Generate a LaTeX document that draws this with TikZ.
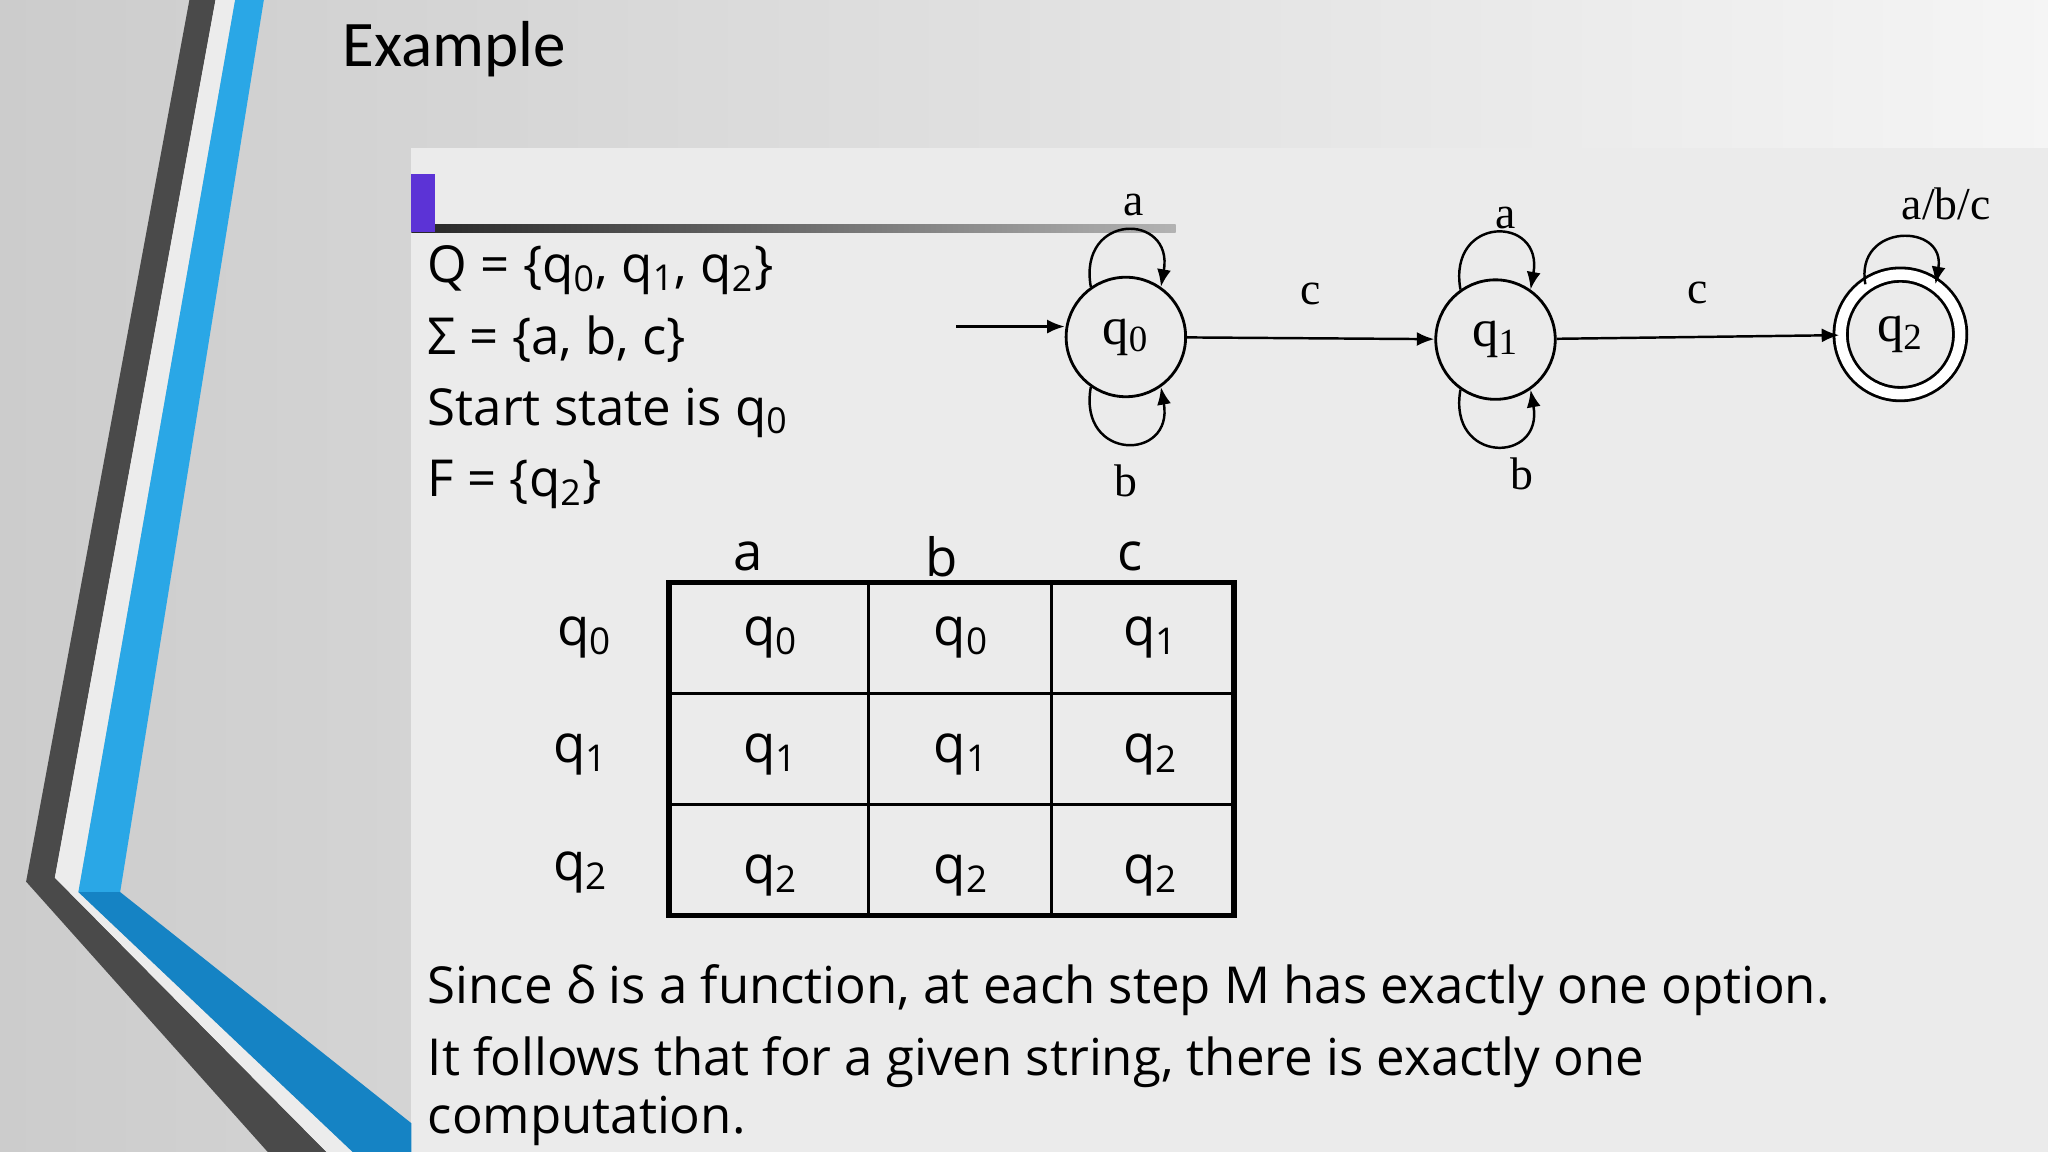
\documentclass[tikz,border=0pt]{standalone}
\usepackage{fontspec}
\setmainfont{Open Sans}
\newfontfamily\titlefont{Carlito}
\newfontfamily\serf{Liberation Serif}
\usetikzlibrary{arrows.meta}
\definecolor{bandblue}{HTML}{2AA7E6}
\definecolor{bandblue2}{HTML}{1583C4}
\definecolor{bandgray}{HTML}{4A4A4A}
\definecolor{panel}{HTML}{EBEBEB}
\tikzset{
  body/.style={anchor=west,inner sep=0pt,font=\fontsize{14.5}{16}\selectfont},
  st/.style={circle,draw,line width=0.8pt,minimum size=34pt,inner sep=0pt,font=\serf\fontsize{15}{16}\selectfont},
  lab/.style={font=\serf\fontsize{13}{14}\selectfont,inner sep=1pt},
  edge/.style={-{Latex[length=5pt,width=4pt]},line width=0.7pt},
  cell/.style={font=\fontsize{15}{16}\selectfont,inner sep=0pt}
}
\newcommand{\qs}[1]{q\textsubscript{#1}}
\begin{document}
\begin{tikzpicture}[x=0.01306cm,y=-0.01306cm]
\useasboundingbox (0,0) rectangle (1568,882);
\shade[left color=gray!40,right color=gray!8] (0,0) rectangle (1568,882);
\fill[panel] (315,113) rectangle (1568,882);
% stripes
\fill[bandgray] (145,0) -- (165,0) -- (42,672) -- (250,882) -- (205,882) -- (20,675) -- cycle;
\fill[white!85!gray] (165,0) -- (180,0) -- (60,683) -- (270,882) -- (250,882) -- (42,672) -- cycle;
\fill[bandblue] (180,0) -- (202,0) -- (92,683) -- (60,683) -- cycle;
\fill[bandblue2] (60,683) -- (92,683) -- (315,860) -- (315,882) -- (270,882) -- cycle;
\node[anchor=west,inner sep=0pt,font=\titlefont\fontsize{18.5}{20}\selectfont] (title) at (262,38) {Example};
% top line
\shade[left color=black!85,right color=black!30] (315,172) rectangle (900,178);
\fill[blue!60!violet!80] (315,133) rectangle (333,178);
% texts
\node[body] (Q) at (327,207) {Q = \{\qs{0}, \qs{1}, \qs{2}\}};
\node[body] (S) at (327,260) {Σ = \{a, b, c\}};
\node[body] (St) at (327,316) {Start state is \qs{0}};
\node[body] (F) at (327,371) {F = \{\qs{2}\}};
% automaton
\node[st] (q0) at (862,258) {q\textsubscript{0}};
\node[st] (q1) at (1145,260) {q\textsubscript{1}};
\node[st,double,double distance=3pt] (q2) at (1455,256) {q\textsubscript{2}};
\coordinate (start) at (732,250);
\draw[edge] (start) -- (start -| q0.west);
\draw[edge] (q0) -- node[lab,above=8pt] {c} (q1);
\draw[edge] (q1) -- node[lab,above=8pt] {c} (q2);
\draw[edge] (q0.125) .. controls +(-100:58) and +(-80:58) .. (q0.55);
\node[lab] (la0) at (868,157) {a};
\draw[edge] (q0.235) .. controls +(100:58) and +(80:58) .. (q0.305);
\node[lab] (lb0) at (862,368) {b};
\draw[edge] (q1.125) .. controls +(-100:58) and +(-80:58) .. (q1.55);
\node[lab] (la1) at (1153,167) {a};
\draw[edge] (q1.235) .. controls +(100:58) and +(80:58) .. (q1.305);
\node[lab] (lb1) at (1165,363) {b};
\draw[edge] (q2.125) .. controls +(-100:48) and +(-80:48) .. (q2.55);
\node[lab] (lq2) at (1490,156) {a/b/c};
% table
\draw[line width=1.6pt] (512,446) rectangle (945,701);
\draw[line width=0.9pt] (665,446) -- (665,701) (805,446) -- (805,701) (512,531) -- (945,531) (512,616) -- (945,616);
\node[cell] (ha) at (573,426) {a};
\node[cell] (hb) at (721,426) {b};
\node[cell] (hc) at (865,426) {c};
\node[cell] (r0) at (448,488) {\qs{0}};
\node[cell] (r1) at (445,578) {\qs{1}};
\node[cell] (r2) at (445,668) {\qs{2}};
\node[cell] at (590,488) {\qs{0}};
\node[cell] at (736,488) {\qs{0}};
\node[cell] at (881,488) {\qs{1}};
\node[cell] at (590,578) {\qs{1}};
\node[cell] at (736,578) {\qs{1}};
\node[cell] at (881,578) {\qs{2}};
\node[cell] at (590,670) {\qs{2}};
\node[cell] at (736,670) {\qs{2}};
\node[cell] at (881,670) {\qs{2}};
% bottom text
\node[body] (t1) at (327,758) {Since δ is a function, at each step M has exactly one option.};
\node[body] (t2) at (327,813) {It follows that for a given string, there is exactly one};
\node[body] (t3) at (327,858) {computation.};
\end{tikzpicture}
\end{document}
